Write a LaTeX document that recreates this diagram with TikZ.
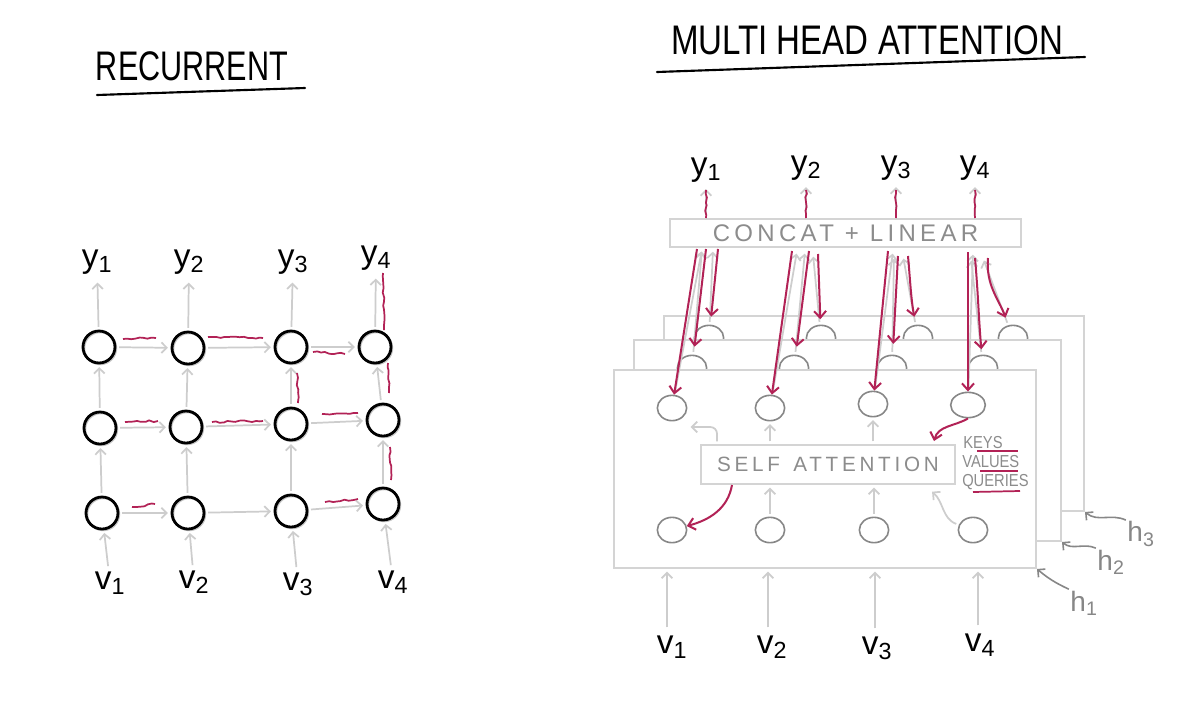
\documentclass[tikz,border=0pt]{standalone}
\usepackage{fontspec}
\setmainfont{Liberation Sans}
\newfontfamily\spacedfont[LetterSpace=18]{Liberation Sans}
\usetikzlibrary{arrows.meta,decorations.pathmorphing,shapes.geometric,calc}
\definecolor{inkred}{RGB}{178,34,86}
\definecolor{lightg}{RGB}{205,205,205}
\definecolor{boxg}{RGB}{212,212,212}
\definecolor{circg}{RGB}{135,135,135}
\definecolor{textg}{RGB}{140,140,140}
\begin{document}
\pgfmathsetseed{7}
\begin{tikzpicture}[x=0.75pt,y=-0.75pt,
  garrow/.style={draw=lightg, line width=1.3pt, -{Straight Barb[length=4pt,width=8pt]}, shorten >=2pt, shorten <=2pt},
  rarrow/.style={draw=inkred, line width=1.5pt, -{Straight Barb[length=5pt,width=9pt]}},
  harrow/.style={draw=circg, line width=1.2pt, -{Straight Barb[length=4pt,width=8pt]}},
  wig/.style={draw=inkred, line width=1.3pt, decorate, decoration={random steps, segment length=3pt, amplitude=0.7pt}},
  uline/.style={draw=black, line width=1.6pt, line cap=round},
  rnn/.style={circle, draw=black, line width=2.1pt, minimum size=24pt, inner sep=0pt,
    preaction={draw=gray!45, line width=1.5pt, transform canvas={shift={(0.9pt,-0.9pt)}}}},
  att/.style={ellipse, draw=circg, line width=1.2pt, minimum width=22pt, minimum height=19pt, inner sep=0pt, fill=white},
  gbox/.style={draw=boxg, line width=1.5pt, fill=white, inner sep=0pt},
  title/.style={font=\fontsize{31}{33}\selectfont, text=black, inner sep=0pt},
  lab/.style={font=\fontsize{25}{27}\selectfont, text=black, inner sep=1pt},
  kv/.style={font=\fontsize{13}{14}\selectfont, text=textg, inner sep=0pt, anchor=west},
  hl/.style={font=\fontsize{21}{23}\selectfont, text=circg, inner sep=1pt},
]
\useasboundingbox[fill=white] (0,0) rectangle (1200,722);

% ---------------- titles ----------------
\node[title] (trec) at (192,66) {\scalebox{0.74}[1]{RECURRENT}};
\draw[uline] (97,95) -- (305,88);
\node[title] (tmha) at (867,40) {\scalebox{0.8}[1]{MULTI HEAD ATTENTION}};
\draw[uline] (657,72) -- (1085,57);

% ---------------- recurrent grid ----------------
\node[lab] (ly1) at (97,262) {y\textsubscript{1}};
\node[lab] (ly2) at (189,262) {y\textsubscript{2}};
\node[lab] (ly3) at (293,262) {y\textsubscript{3}};
\node[lab] (ly4) at (376,258) {y\textsubscript{4}};
\node[lab] (lv1) at (110,583) {v\textsubscript{1}};
\node[lab] (lv2) at (194,582) {v\textsubscript{2}};
\node[lab] (lv3) at (298,584) {v\textsubscript{3}};
\node[lab] (lv4) at (393,582) {v\textsubscript{4}};

\node[rnn] (a11) at (99,347) {};
\node[rnn] (a12) at (188,348) {};
\node[rnn] (a13) at (291,347) {};
\node[rnn] (a14) at (375,347) {};
\node[rnn] (a21) at (100,428) {};
\node[rnn] (a22) at (186,427) {};
\node[rnn] (a23) at (291,424) {};
\node[rnn] (a24) at (383,420) {};
\node[rnn] (a31) at (102,513) {};
\node[rnn] (a32) at (188,513) {};
\node[rnn] (a33) at (291,511) {};
\node[rnn] (a34) at (383,504) {};

\foreach \c in {1,2,3,4}{
  \draw[garrow, shorten >=5pt] (a1\c) -- (ly\c);
  \draw[garrow, shorten <=3pt] (lv\c) -- (a3\c);
  \draw[garrow] (a3\c) -- (a2\c);
  \draw[garrow] (a2\c) -- (a1\c);
}
\foreach \r in {1,2,3}{
  \draw[garrow] (a\r1) -- (a\r2);
  \draw[garrow] (a\r2) -- (a\r3);
  \draw[garrow] (a\r3) -- (a\r4);
}
% red traces
\draw[wig] (123,339) -- (156,338);
\draw[wig] (208,337) -- (263,338);
\draw[wig] (313,352) -- (345,354);
\draw[wig] (125,422) -- (158,421);
\draw[wig] (212,422) -- (263,421);
\draw[wig] (322,414) -- (358,413);
\draw[wig] (132,507) -- (155,504);
\draw[wig] (325,502) -- (358,499);
\draw[wig] (383,273) -- (384,330);
\draw[wig] (388,363) -- (389,393);
\draw[wig] (390,447) -- (391,480);
\draw[wig] (297,373) -- (298,403);

% ---------------- multi head attention ----------------
\node[lab] (ry1) at (706,170) {y\textsubscript{1}};
\node[lab] (ry2) at (806,168) {y\textsubscript{2}};
\node[lab] (ry3) at (896,168) {y\textsubscript{3}};
\node[lab] (ry4) at (975,168) {y\textsubscript{4}};

\node[gbox, minimum width=263pt, minimum height=21pt, text=textg,
  font=\spacedfont\fontsize{18}{20}\selectfont] (concat) at (845.5,233) {CONCAT + LINEAR};

% back heads
\node[gbox, anchor=north west, minimum width=315pt, minimum height=146.25pt] (h3box) at (663,315) {};
\node[att] (c31) at (709,338) {};
\node[att] (c32) at (821,338) {};
\node[att] (c33) at (918,338) {};
\node[att] (c34) at (1013,338) {};
\node[gbox, anchor=north west, minimum width=320.25pt, minimum height=150.75pt] (h2box) at (633,339) {};
\node[att] (c21) at (692,368) {};
\node[att] (c22) at (794,368) {};
\node[att] (c23) at (892,368) {};
\node[att] (c24) at (983,368) {};
\node[gbox, anchor=north west, minimum width=316.5pt, minimum height=148.5pt] (h1box) at (613,369) {};

% front head
\node[att] (f1) at (672,408) {};
\node[att] (f2) at (770,408) {};
\node[att] (f3) at (873,404) {};
\node[att, minimum width=26pt] (f4) at (968,405) {};
\node[att] (b1) at (672,530) {};
\node[att] (b2) at (770,530) {};
\node[att] (b3) at (874,530) {};
\node[att] (b4) at (973,530) {};
\node[gbox, minimum width=190.5pt, minimum height=29.25pt, text=textg,
  font=\spacedfont\fontsize{15.5}{17}\selectfont] (sa) at (828,464.5) {SELF\hspace{10pt}ATTENTION};

\node[kv] (keys) at (963,443) {\scalebox{0.85}[1]{KEYS}};
\node[kv] (vals) at (962,462) {\scalebox{0.85}[1]{VALUES}};
\node[kv] (qrs) at (962,482) {\scalebox{0.85}[1]{QUERIES}};
\draw[draw=inkred, line width=1.3pt] (977,451) -- (1018,451);
\draw[draw=inkred, line width=1.3pt] (980,471) -- (1018,471);
\draw[draw=inkred, line width=1.3pt] (973,492) -- (1020,491);

% gray flows inside front head
\draw[garrow] (sa.north -| f2) -- (f2);
\draw[garrow] (sa.north -| f3) -- (f3);
\draw[garrow, rounded corners=5pt] (717,444) |- (688,427);
\draw[garrow] (b2) -- (b2 |- sa.south);
\draw[garrow] (b3) -- (b3 |- sa.south);
\draw[garrow] (b4) to[out=160,in=-40] (930,490);

% inputs
\node[lab] (rv1) at (672,647) {v\textsubscript{1}};
\node[lab] (rv2) at (772,647) {v\textsubscript{2}};
\node[lab] (rv3) at (877,648) {v\textsubscript{3}};
\node[lab] (rv4) at (980,645) {v\textsubscript{4}};
\foreach \i/\dx in {1/-5,2/-4,3/-2,4/-2}{
  \draw[garrow] ($(rv\i.north)+(\dx,-4)$) -- ($(rv\i.north |- h1box.south)+(\dx,0)$);
}

% heads labels
\node[hl] (h1) at (1084,603) {h\textsubscript{1}};
\node[hl] (h2) at (1111,562) {h\textsubscript{2}};
\node[hl] (h3) at (1141,534) {h\textsubscript{3}};
\draw[harrow] (h1.north west) to[out=155,in=-40] (h1box.south east);
\draw[harrow] (h2.north west) to[out=155,in=-40] (h2box.south east);
\draw[harrow] (h3.north west) to[out=155,in=-40] (h3box.south east);

% concat -> outputs
\foreach \i in {1,2,3,4}{
  \draw[garrow, shorten >=4pt] (ry\i |- concat.north) -- (ry\i);
  \draw[wig] (ry\i |- concat.north) -- ++(0,-28);
}

% start points on concat
\coordinate (k11) at (697,249);
\coordinate (k12) at (706,249);
\coordinate (k13) at (718,249);
\coordinate (k21) at (792,251);
\coordinate (k22) at (809,251);
\coordinate (k23) at (818,254);
\coordinate (k31) at (888,251);
\coordinate (k32) at (898,256);
\coordinate (k33) at (908,256);
\coordinate (k41) at (968,252);
\coordinate (k42) at (975,258);
\coordinate (k43) at (988,258);

% gray upward flows into concat
\foreach \i in {1,2,3,4}{
  \draw[garrow] (f\i) -- ($(k\i1)+(5,0)$);
  \draw[garrow] (c2\i) -- ($(k\i2)+(-4,0)$);
  \draw[garrow] (c3\i) -- ($(k\i3)+(-5,0)$);
}

% red attention flows
\draw[rarrow] (k11) -- (f1);
\draw[rarrow, shorten >=6pt] (k12) -- (c21);
\draw[rarrow, shorten >=6pt] (k13) -- (c31);
\draw[rarrow] (k21) -- (f2);
\draw[rarrow, shorten >=6pt] (k22) -- (c22);
\draw[rarrow, shorten >=4pt] (k23) -- (c32);
\draw[rarrow] (k31) -- (f3);
\draw[rarrow, shorten >=8pt] (k32) -- (c23);
\draw[rarrow, shorten >=6pt] (k33) to[out=-85,in=100] (c33);
\draw[rarrow] (k41) -- (f4);
\draw[rarrow, shorten >=4pt] (k42) to[out=-85,in=95] (c24);
\draw[rarrow, shorten >=6pt] (k43) to[out=-95,in=110] (c34);
\draw[rarrow] (f4.south) to[out=-150,in=75] (934,441);
\draw[rarrow] (732,485) to[out=-100,in=15] (b1);
\end{tikzpicture}
\end{document}
